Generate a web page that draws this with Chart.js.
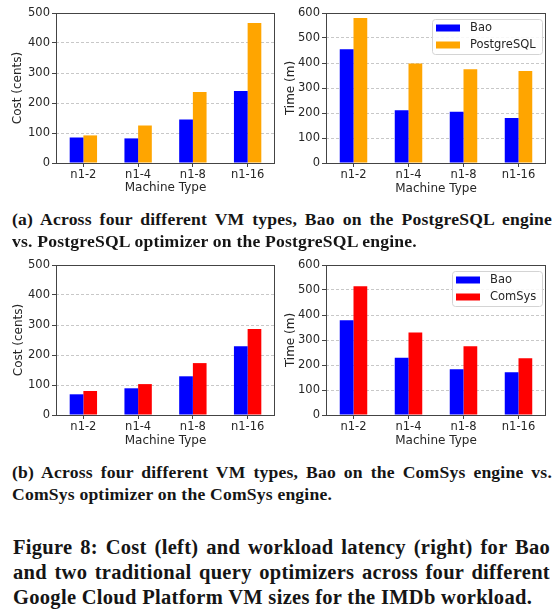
<!DOCTYPE html>
<html>
<head>
<meta charset="utf-8">
<script src="https://cdn.jsdelivr.net/npm/chart.js@4.4.0/dist/chart.umd.min.js"></script>
<style>
  body { margin: 0; background: #fff; width: 559px; height: 614px; position: relative; overflow: hidden; }
  .panel { position: absolute; }
  .line {
    position: absolute; left: 12px; width: 540px;
    font-family: "Liberation Serif", serif; font-weight: bold; color: #151515;
    line-height: 1; white-space: nowrap;
  }
  .sub { font-size: 17.6px; letter-spacing: 0.2px; }
  .fig { font-size: 20.5px; left: 13px; width: 537px; letter-spacing: 0.3px; }
  .j { text-align: justify; text-align-last: justify; }
</style>
</head>
<body>
<div class="panel" style="left:0px;top:0px;width:280px;height:200px"><canvas id="costPg"></canvas></div>
<div class="panel" style="left:270px;top:0px;width:289px;height:200px"><canvas id="timePg"></canvas></div>
<div class="panel" style="left:0px;top:250px;width:280px;height:200px"><canvas id="costCs"></canvas></div>
<div class="panel" style="left:270px;top:250px;width:289px;height:200px"><canvas id="timeCs"></canvas></div>

<div class="line sub j" style="top:211px">(a) Across four different VM types, Bao on the PostgreSQL engine</div>
<div class="line sub" style="top:233px">vs. PostgreSQL optimizer on the PostgreSQL engine.</div>
<div class="line sub j" style="top:464px">(b) Across four different VM types, Bao on the ComSys engine vs.</div>
<div class="line sub" style="top:486px">ComSys optimizer on the ComSys engine.</div>
<div class="line fig j" style="top:537px">Figure 8: Cost (left) and workload latency (right) for Bao</div>
<div class="line fig j" style="top:562px">and two traditional query optimizers across four different</div>
<div class="line fig" style="top:587px">Google Cloud Platform VM sizes for the IMDb workload.</div>

<script>
const machineTypes = ["n1-2", "n1-4", "n1-8", "n1-16"];

// (a) PostgreSQL engine
const costBaoPg = [85, 82, 145, 240];
const costPostgres = [92, 125, 237, 467];
const timeBaoPg = [455, 211, 205, 180];
const timePostgres = [580, 398, 375, 368];

// (b) ComSys engine
const costBaoCs = [69, 89, 129, 229];
const costComSys = [80, 103, 173, 287];
const timeBaoCs = [379, 229, 183, 171];
const timeComSys = [515, 330, 275, 227];

const costMax = 500;
const timeMax = 600;
const tickStep = 100;

const BLUE = "#0000ff";
const ORANGE = "#ffa500";
const RED = "#ff0000";
const FONT = "'DejaVu Sans', sans-serif";
const TXT = "#262626";
const AXIS = "#444";

// matplotlib-style box around the plot area
const framePlugin = {
    id: "frame",
    afterDatasetsDraw(chart) {
        const { ctx, chartArea: a } = chart;
        ctx.save();
        ctx.strokeStyle = AXIS;
        ctx.lineWidth = 1;
        ctx.strokeRect(
            Math.round(a.left) + 0.5,
            Math.round(a.top) + 0.5,
            Math.round(a.right - a.left) - 1,
            Math.round(a.bottom - a.top)
        );
        ctx.restore();
    },
};

// legend drawn inside the plot, upper right, with a light box
const boxLegend = {
    id: "boxLegend",
    afterDraw(chart, args, opts) {
        if (!opts.show) return;
        const { ctx, chartArea: a } = chart;
        const sets = chart.data.datasets;
        ctx.save();
        ctx.font = "11.5px " + FONT;
        const textW = Math.max(...sets.map((d) => ctx.measureText(d.label).width));
        const w = Math.round(4 + 24 + 10 + textW + 6);
        const h = 35;
        const x = Math.round(a.right - 4 - w);
        const y = Math.round(a.top + 6);
        ctx.fillStyle = "rgba(255,255,255,0.85)";
        ctx.strokeStyle = "#d4d4d4";
        ctx.lineWidth = 1;
        ctx.beginPath();
        ctx.roundRect(x + 0.5, y + 0.5, w, h, 3);
        ctx.fill();
        ctx.stroke();
        sets.forEach((d, i) => {
            const cy = y + 9 + i * 17;
            ctx.fillStyle = d.backgroundColor;
            ctx.fillRect(x + 4, cy - 3.5, 24, 7);
            ctx.fillStyle = TXT;
            ctx.textBaseline = "middle";
            ctx.fillText(d.label, x + 38, cy);
        });
        ctx.restore();
    },
};

function drawPanel(id, p) {
    new Chart(document.getElementById(id), {
        type: "bar",
        data: {
            labels: machineTypes,
            datasets: p.series.map((s) => ({
                label: s.label,
                data: s.data,
                backgroundColor: s.color,
                borderWidth: 0,
                categoryPercentage: 0.5,
                barPercentage: 1.0,
            })),
        },
        options: {
            responsive: true,
            maintainAspectRatio: false,
            animation: false,
            layout: { padding: { top: p.top, right: p.right, left: 0, bottom: 0 } },
            plugins: {
                legend: { display: false },
                tooltip: { enabled: false },
                boxLegend: { show: p.legend },
            },
            scales: {
                x: {
                    grid: {
                        display: true,
                        drawOnChartArea: false,
                        drawTicks: true,
                        offset: false,
                        tickLength: 4,
                        tickColor: AXIS,
                    },
                    border: { display: false },
                    ticks: { color: TXT, font: { family: FONT, size: 11.5 }, padding: 1, maxRotation: 0 },
                    title: {
                        display: true,
                        text: "Machine Type",
                        color: TXT,
                        font: { family: FONT, size: 12 },
                        padding: { top: 0, bottom: p.xTitlePad },
                    },
                    afterFit: (s) => { s.height = p.xHeight; },
                },
                y: {
                    min: 0,
                    max: p.yMax,
                    grid: {
                        color: "#c8c8c8",
                        lineWidth: 1,
                        drawTicks: true,
                        tickLength: 4,
                        tickColor: AXIS,
                        tickBorderDash: [],
                    },
                    border: { display: false, dash: [3, 2] },
                    ticks: { stepSize: tickStep, color: TXT, font: { family: FONT, size: 11.5 }, padding: 2 },
                    title: {
                        display: true,
                        text: p.yTitle,
                        color: TXT,
                        font: { family: FONT, size: 12 },
                        padding: { top: p.yTitlePad, bottom: 0 },
                    },
                    afterFit: (s) => { s.width = 56; },
                },
            },
        },
        plugins: [framePlugin, boxLegend],
    });
}

drawPanel("costPg", {
    series: [
        { label: "Bao", data: costBaoPg, color: BLUE },
        { label: "PostgreSQL", data: costPostgres, color: ORANGE },
    ],
    yTitle: "Cost (cents)", yMax: costMax, legend: false,
    top: 13, right: 5, xHeight: 37, xTitlePad: 4.8, yTitlePad: 10.8,
});
drawPanel("timePg", {
    series: [
        { label: "Bao", data: timeBaoPg, color: BLUE },
        { label: "PostgreSQL", data: timePostgres, color: ORANGE },
    ],
    yTitle: "Time (m)", yMax: timeMax, legend: true,
    top: 13, right: 13, xHeight: 37, xTitlePad: 3.8, yTitlePad: 13.5,
});
drawPanel("costCs", {
    series: [
        { label: "Bao", data: costBaoCs, color: BLUE },
        { label: "ComSys", data: costComSys, color: RED },
    ],
    yTitle: "Cost (cents)", yMax: costMax, legend: false,
    top: 15, right: 5, xHeight: 35, xTitlePad: 2.1, yTitlePad: 11.8,
});
drawPanel("timeCs", {
    series: [
        { label: "Bao", data: timeBaoCs, color: BLUE },
        { label: "ComSys", data: timeComSys, color: RED },
    ],
    yTitle: "Time (m)", yMax: timeMax, legend: true,
    top: 15, right: 13, xHeight: 35, xTitlePad: 2.1, yTitlePad: 13.5,
});
</script>
</body>
</html>
